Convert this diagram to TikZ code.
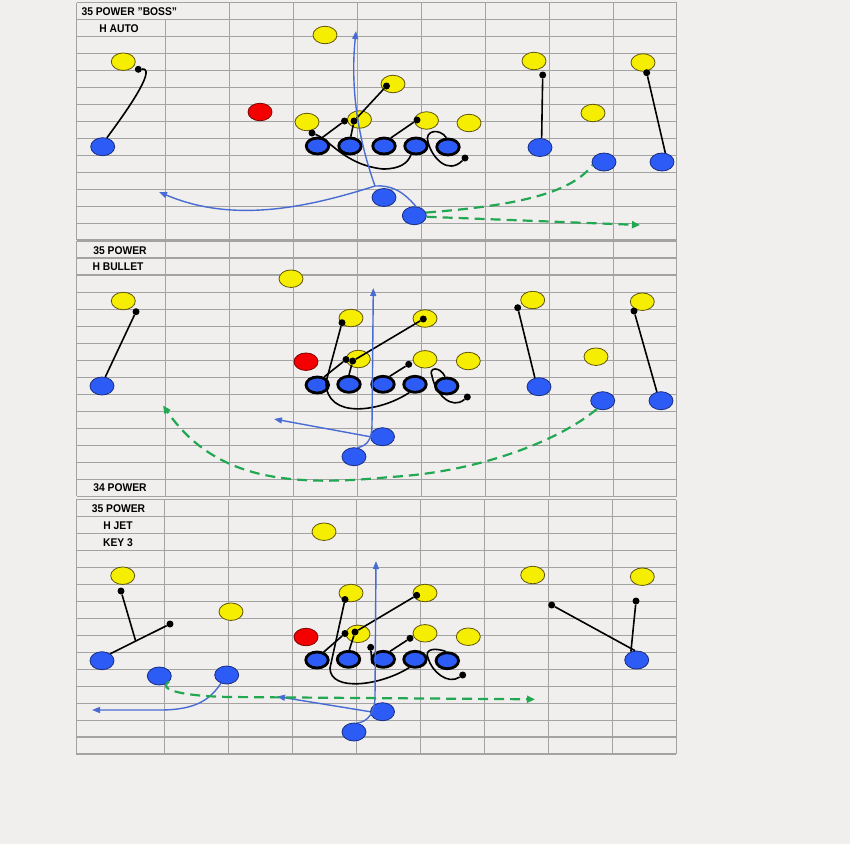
\documentclass[tikz,border=0pt]{standalone}
\usepackage{fontspec}
\setmainfont{Liberation Sans}[FakeStretch=0.92]
\usetikzlibrary{shapes.geometric,arrows.meta}
\definecolor{paper}{RGB}{241,239,237}
\definecolor{cellline}{RGB}{163,163,163}
\definecolor{defyel}{RGB}{246,238,0}
\definecolor{defedge}{RGB}{95,85,10}
\definecolor{offblue}{RGB}{44,92,245}
\definecolor{offedge}{RGB}{25,45,130}
\definecolor{rover}{RGB}{245,0,0}
\definecolor{runblue}{RGB}{72,108,212}
\definecolor{motiongreen}{RGB}{34,168,82}
\begin{document}
\begin{tikzpicture}[x=1pt, y=-1pt,
  d node/.style={ellipse, draw=defedge, line width=0.8pt, fill=defyel, minimum width=24pt, minimum height=17.5pt, inner sep=0pt},
  o node/.style={ellipse, draw=offedge, line width=0.8pt, fill=offblue, minimum width=24pt, minimum height=18pt, inner sep=0pt},
  line node/.style={o node, draw=black, line width=2.8pt, minimum width=22.5pt, minimum height=16pt},
  r node/.style={d node, fill=rover, draw=red!50!black},
  dot node/.style={circle, fill=black, minimum size=7pt, inner sep=0pt},
  block/.style={draw, line width=1.6pt},
  run/.style={draw=runblue, line width=1.4pt, -{Triangle[length=8pt,width=6pt]}},
  motion/.style={draw=motiongreen, line width=2.2pt, dash pattern=on 10pt off 6pt, -{Triangle[length=8pt,width=7pt]}},
  cell/.style={draw=cellline, line width=1.1pt}]
  \tikzstyle{every node}=[font=\fontsize{11.2}{13}\selectfont\bfseries]

  \fill[paper] (0,0) rectangle (850,844);
  \useasboundingbox (0,0) rectangle (850,844);

  % the three sheets
  \foreach \k in {0,...,14} \draw[cell] (76.7,{2.7+16.95*\k}) -- (676.7,{2.7+16.95*\k});
  \foreach \x in {76.7,229.3,293.3,357.3,421.3,485.3,549.3,613.3,676.7} \draw[cell] (\x,2.7) -- (\x,240);
  \draw[cell] (165.7,19.65) -- (165.7,240);
  \foreach \k in {0,...,15} \draw[cell] (76.7,{241+17.02*\k}) -- (676.7,{241+17.02*\k});
  \foreach \x in {76.7,165.7,229.3,293.3,357.3,421.3,485.3,549.3,613.3,676.7} \draw[cell] (\x,241) -- (\x,496.3);
  \foreach \k in {0,...,15} \draw[cell] (76.2,{499.7+16.95*\k}) -- (676.2,{499.7+16.95*\k});
  \foreach \x in {76.2,164.8,228.6,292.6,356.8,420.8,484.8,548.8,612.8,676.2} \draw[cell] (\x,499.7) -- (\x,754);

  % 35 power boss
  \node[anchor=west] (at1) at (78,12) {35 POWER "BOSS"};
  \node (at2) at (119,29) {H AUTO};
  \node[d node] (a1) at (123.3,61.7) {};
  \node[d node] (a2) at (325,35) {};
  \node[d node] (a3) at (393,84) {};
  \node[d node] (a4) at (307,122) {};
  \node[d node] (a5) at (359.5,119.5) {};
  \node[d node] (a6) at (426.5,120.5) {};
  \node[d node] (a7) at (469,123) {};
  \node[d node] (a8) at (534,61) {};
  \node[d node] (a9) at (593,113) {};
  \node[d node] (a10) at (643,62.5) {};
  \node[r node] (a11) at (260,112) {};
  \node[o node] (a12) at (102.7,146.7) {};
  \node[line node] (a13) at (317.5,146) {};
  \node[line node] (a14) at (350,146) {};
  \node[line node] (a15) at (384,146) {};
  \node[line node] (a16) at (416,146) {};
  \node[line node] (a17) at (448,147) {};
  \node[o node] (a18) at (540,147.5) {};
  \node[o node] (a19) at (604,162) {};
  \node[o node] (a20) at (662,162) {};
  \node[o node] (a21) at (384,197.5) {};
  \node[o node] (a22) at (414.3,215.7) {};
  \node[dot node] (a23) at (138.3,69.3) {};
  \node[dot node] (a24) at (312,133) {};
  \node[dot node] (a25) at (344.5,121) {};
  \node[dot node] (a26) at (354,121) {};
  \node[dot node] (a27) at (386.5,86) {};
  \node[dot node] (a28) at (417,120) {};
  \node[dot node] (a29) at (465,158) {};
  \node[dot node] (a30) at (542.7,75) {};
  \node[dot node] (a31) at (646.7,72.7) {};
  \coordinate (a32) at (375,186);
  \coordinate (a33) at (356,31);
  \coordinate (a34) at (159,192);
  \coordinate (a35) at (640,225);

  \path[block] (a13.60) edge (a25)
    (a14.85) edge (a26)
    (a26) edge (a27)
    (a15.50) edge (a28)
    (a18.80) edge (a30)
    (a20.70) edge (a31);
  \draw[block] (a12.65) .. controls (135,100) and (155,68) .. (a23);
  \draw[block] (a24) .. controls (330,140) and (345,165) .. (383,169) .. controls (400,169) and (408,163) .. (a16.240);
  \draw[block] (a17.100) .. controls (440,128) and (424,130) .. (428,142) .. controls (432,158) and (448,175) .. (a29);
  \draw[run, -] (a22.80) .. controls (402,190) and (390,185) .. (a32);
  \draw[run] (a32) .. controls (355,130) and (351,80) .. (a33);
  \draw[run] (a32) .. controls (300,210) and (230,222) .. (a34);
  \draw[motion, -] (a22.15) .. controls (510,206) and (570,195) .. (a19.195);
  \draw[motion] (a22.-5) -- (a35);

  % 35 power bullet
  \node (bt1) at (120,250.5) {35 POWER};
  \node (bt2) at (118,267) {H BULLET};
  \node (bt3) at (120,488) {34 POWER};
  \node[d node] (b1) at (123.3,301) {};
  \node[d node] (b2) at (291,278.7) {};
  \node[d node] (b3) at (351,318) {};
  \node[d node] (b4) at (425,318.5) {};
  \node[d node] (b5) at (358.3,359) {};
  \node[d node] (b6) at (425,359.3) {};
  \node[d node] (b7) at (468.3,361) {};
  \node[d node] (b8) at (532.7,300) {};
  \node[d node] (b9) at (596,356.7) {};
  \node[d node] (b10) at (642.3,301.7) {};
  \node[r node] (b11) at (306,361.7) {};
  \node[o node] (b12) at (102,386) {};
  \node[line node] (b13) at (317.3,385) {};
  \node[line node] (b14) at (349,384.3) {};
  \node[line node] (b15) at (383,384.3) {};
  \node[line node] (b16) at (415,384.3) {};
  \node[line node] (b17) at (446.7,386) {};
  \node[o node] (b18) at (539,386.7) {};
  \node[o node] (b19) at (602.7,400.7) {};
  \node[o node] (b20) at (661,400.7) {};
  \node[o node] (b21) at (382.5,436.7) {};
  \node[o node] (b22) at (354,456.7) {};
  \node[dot node] (b23) at (136,311.7) {};
  \node[dot node] (b24) at (342,322.7) {};
  \node[dot node] (b25) at (423.3,319) {};
  \node[dot node] (b26) at (346,359.5) {};
  \node[dot node] (b27) at (352.7,361) {};
  \node[dot node] (b28) at (408.7,364.3) {};
  \node[dot node] (b29) at (467.3,397) {};
  \node[dot node] (b30) at (517.7,307.7) {};
  \node[dot node] (b31) at (634,311) {};
  \coordinate (b32) at (373.3,288);
  \coordinate (b33) at (274,419);
  \coordinate (b34) at (163,405.5);

  \path[block] (b12.70) edge (b23)
    (b13.50) edge (b26)
    (b14.90) edge (b27)
    (b27) edge (b25)
    (b15.50) edge (b28)
    (b18.115) edge (b30)
    (b20.115) edge (b31);
  \draw[block] (b16.235) .. controls (380,412) and (326,420) .. (326,382) -- (b24);
  \draw[block] (b17.100) .. controls (440,366) and (428,367) .. (432,376) .. controls (436,395) and (452,410) .. (b29);
  \draw[run] (b22.70) .. controls (368,446) and (372,438) .. (372,425) -- (b32);
  \draw[run] (b21.west) -- (b33);
  \draw[motion] (b19.235) .. controls (560,440) and (480,472) .. (390,477) .. controls (290,487) and (215,480) .. (b34);

  % 35 power jet
  \node (ct1) at (118.5,508.5) {35 POWER};
  \node (ct2) at (118,525.5) {H JET};
  \node (ct3) at (118,542.5) {KEY 3};
  \node[d node] (c1) at (324,531.7) {};
  \node[d node] (c2) at (122.7,575.7) {};
  \node[d node] (c3) at (231,611.7) {};
  \node[d node] (c4) at (351,593) {};
  \node[d node] (c5) at (425,593) {};
  \node[d node] (c6) at (358,633.8) {};
  \node[d node] (c7) at (425,633.3) {};
  \node[d node] (c8) at (468.3,636.7) {};
  \node[d node] (c9) at (532.7,575) {};
  \node[d node] (c10) at (642.3,576.7) {};
  \node[r node] (c11) at (306,637) {};
  \node[o node] (c12) at (102,660.7) {};
  \node[o node] (c13) at (159.3,676) {};
  \node[o node] (c14) at (226.7,675) {};
  \node[line node] (c15) at (317,660) {};
  \node[line node] (c16) at (348.5,659.3) {};
  \node[line node] (c17) at (383.3,659.3) {};
  \node[line node] (c18) at (415,659.3) {};
  \node[line node] (c19) at (447.3,660.7) {};
  \node[o node] (c20) at (636.7,660) {};
  \node[o node] (c21) at (382.5,711.7) {};
  \node[o node] (c22) at (354,732) {};
  \node[dot node] (c23) at (121,591) {};
  \node[dot node] (c24) at (170,624) {};
  \node[dot node] (c25) at (345,599.5) {};
  \node[dot node] (c26) at (416.7,595.3) {};
  \node[dot node] (c27) at (345,633.5) {};
  \node[dot node] (c28) at (355,632) {};
  \node[dot node] (c29) at (370.7,647.3) {};
  \node[dot node] (c30) at (410,638.3) {};
  \node[dot node] (c31) at (462.7,675) {};
  \node[dot node] (c32) at (551.7,605) {};
  \node[dot node] (c33) at (636,601) {};
  \coordinate (c35) at (376,561);
  \coordinate (c36) at (277,696.5);
  \coordinate (c37) at (92,710);
  \coordinate (c38) at (535,699.3);

  \draw[block] (c12.40) -- coordinate[pos=0.45] (c34) (c24);
  \path[block] (c34) edge (c23)
    (c15.50) edge (c27)
    (c16.85) edge (c28)
    (c28) edge (c26)
    (c29) edge (c17.200)
    (c17.50) edge (c30)
    (c20.100) edge (c32)
    (c20.125) edge (c33);
  \draw[block] (c18.235) .. controls (380,686) and (330,692) .. (330,668) -- (c25);
  \draw[block] (c19.100) .. controls (436,648) and (424,648) .. (428,658) .. controls (432,672) and (448,685) .. (c31);
  \draw[run] (c22.70) .. controls (368,722) and (375,712) .. (375,697) -- (c35);
  \draw[run] (c21.west) -- (c36);
  \draw[run] (c14.235) .. controls (210,700) and (195,710) .. (160,710) -- (c37);
  \draw[motion] (c13.-30) .. controls (158,688) and (175,696) .. (230,697) -- (c38);
\end{tikzpicture}
\end{document}
